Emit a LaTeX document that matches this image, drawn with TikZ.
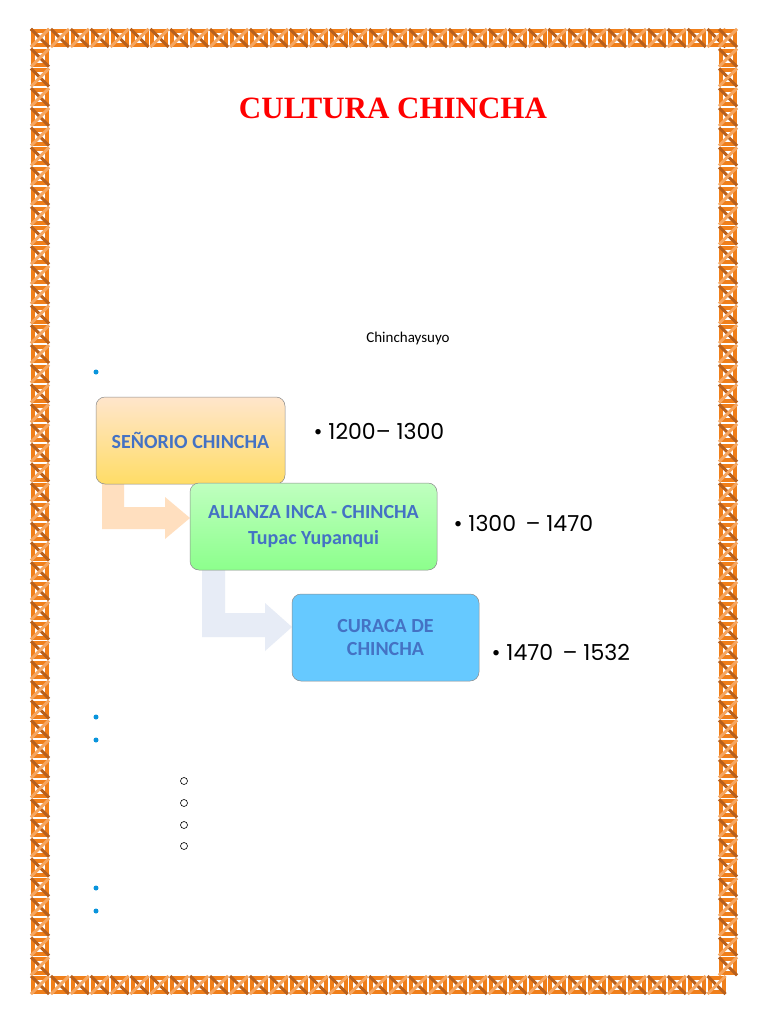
\documentclass[tikz,border=0pt]{standalone}
\usepackage{fontspec}
\setmainfont{Liberation Serif}
\newfontfamily\carlitofont{Carlito}
\newfontfamily\datesfont{Poppins}
\usetikzlibrary{arrows.meta}
\definecolor{tone}{HTML}{F07F1A}
\definecolor{knot}{HTML}{B8601C}
\definecolor{txtblue}{HTML}{4472C4}
\definecolor{skyb}{HTML}{66C9FF}
\definecolor{pale}{HTML}{E7ECF6}
\tikzset{
 box/.style={draw=black!45, rounded corners=9pt, line width=0.5pt, align=center, font=\carlitofont\bfseries\fontsize{20}{23}\selectfont, text=txtblue},
 date/.style={anchor=west, font=\datesfont\fontsize{22}{24}\selectfont},
 bul/.style={circle, fill=cyan!80!blue, inner sep=0pt, minimum size=5pt},
 sub/.style={circle, draw=black, line width=0.6pt, inner sep=0pt, minimum size=7pt},
 tile/.pic={\fill[tone] (-9,-9) rectangle (9,9); \fill[white] (-5,-5) rectangle (5,5);
   \draw[knot, line width=3pt] (-9,-9) -- (9,9); \draw[tone!70!white, line width=3pt] (-9,9) -- (9,-9);}
}
\begin{document}
\begin{tikzpicture}[x=1pt,y=-1pt]
\useasboundingbox (0,0) rectangle (768,1024);
\fill[white] (0,0) rectangle (768,1024);
% border
\foreach \i in {0,...,34} {
  \pic at ({40+\i*19.9},38) {tile};
  \pic at ({40+\i*19.9},985) {tile};
}
\foreach \i in {0,...,47} {
  \pic at (40,{38+\i*19.75}) {tile};
  \pic at (728,{38+\i*19.75}) {tile};
}
\node (title) at (393,108) {\color{red}\bfseries\fontsize{31}{34}\selectfont CULTURA CHINCHA};
\node[font=\carlitofont\fontsize{15}{17}\selectfont] (chy) at (408,338) {Chinchaysuyo};
% arrows
\fill[orange!25] (102,484) -- (124,484) -- (124,507) -- (165,507) -- (165,497) -- (190,518) -- (165,539) -- (165,529) -- (102,529) -- cycle;
\fill[pale] (202,570) -- (225,570) -- (225,613) -- (265,613) -- (265,603) -- (292,627) -- (265,651) -- (265,637) -- (202,637) -- cycle;
\node[box, top color=orange!20, bottom color=orange!45!yellow!60, minimum width=189pt, minimum height=87pt] (a) at (190.5,440.5) {SEÑORIO CHINCHA};
\node[box, top color=green!25, bottom color=green!45, minimum width=247pt, minimum height=87pt] (b) at (313.5,526.5) {ALIANZA INCA - CHINCHA\\[3pt]Tupac Yupanqui};
\node[box, fill=skyb, minimum width=187pt, minimum height=87pt] (c) at (385.5,637.5) {CURACA DE\\CHINCHA};
\node[date] (d1) at (310,431) {• 1200– 1300};
\node[date] (d2) at (450,523) {• 1300 \,– 1470};
\node[date] (d3) at (488,652) {• 1470 \,– 1532};
\foreach \y [count=\k] in {372,717,740,888,911} \node[bul] (b\k) at (96,\y) {};
\foreach \y [count=\k] in {781,803,825,846} \node[sub] (s\k) at (184,\y) {};
\end{tikzpicture}
\end{document}
